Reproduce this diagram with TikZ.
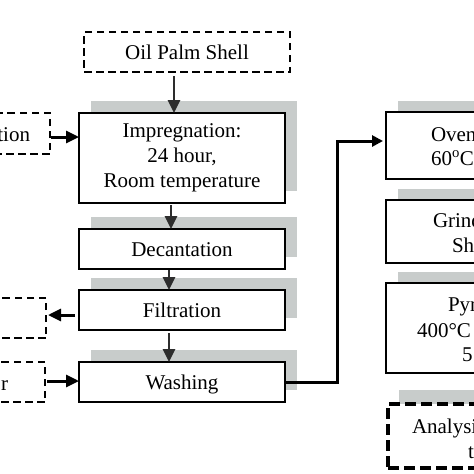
\documentclass[tikz,border=0pt]{standalone}
\usepackage{fontspec}
\setmainfont{Liberation Serif}
\usetikzlibrary{arrows.meta,backgrounds}
\definecolor{shadowgray}{RGB}{200,204,203}
\definecolor{arrgray}{RGB}{45,45,45}
\begin{document}
\begin{tikzpicture}[x=1pt,y=-1pt,
  every node/.style={font=\fontsize{21}{25}\selectfont, inner sep=0pt, outer sep=0pt},
  mainbox/.style={draw, line width=1.4pt, fill=white, minimum width=206pt, align=center},
  oneline/.style={text height=15pt, text depth=0pt},
  dashbox/.style={draw, line width=1.8pt, dash pattern=on 7.5pt off 4.5pt, fill=white},
  thickdash/.style={draw, line width=3.4pt, dash pattern=on 11pt off 5pt, fill=white},
  fragw/.style={anchor=base west},
  frage/.style={anchor=base east},
  arr/.style={line width=2.8pt, draw=arrgray, -{Triangle[length=13pt,width=12pt]}},
  sidearr/.style={line width=3pt, -{Triangle[length=13pt,width=12pt]}},
  conn/.style={line width=3pt, -{Triangle[length=11pt,width=11pt]}},
  shadowrect/.style={fill=shadowgray, draw=none},
]
\useasboundingbox (0,0) rectangle (474,474);
\clip (0,0) rectangle (474,474);

% main column
\node[dashbox, minimum width=206pt, minimum height=40pt, oneline] (oil) at (187,52) {Oil Palm Shell};
\node[mainbox, minimum height=90pt] (imp) at (182,158) {Impregnation:\\24 hour,\\Room temperature};
\node[mainbox, minimum height=40pt, oneline] (dec) at (182,249) {Decantation};
\node[mainbox, minimum height=40pt, oneline] (fil) at (182,310) {Filtration};
\node[mainbox, minimum height=40pt, oneline] (wash) at (182,382) {Washing};

% left side boxes
\node[dashbox, minimum width=140pt, minimum height=41pt] (act) at (-20,133.5) {};
\node[frage] (acttext) at (30,141) {tion};
\node[dashbox, minimum width=140pt, minimum height=40pt] (fout) at (-24,318) {};
\node[dashbox, minimum width=140pt, minimum height=40pt] (win) at (-25,382) {};
\node[frage] (wintext) at (8,390) {r};

% right column
\node[draw, line width=1.4pt, fill=white, minimum width=206pt, minimum height=67pt] (oven) at (489,145.5) {};
\node[fragw] (oventext1) at (431,141) {Oven};
\node[fragw] (oventext2) at (431,165) {60\textsuperscript{o}C};
\node[draw, line width=1.4pt, fill=white, minimum width=206pt, minimum height=63pt] (grind) at (489,231.5) {};
\node[fragw] (grindtext1) at (433,227) {Grind};
\node[fragw] (grindtext2) at (452,252) {Sh};
\node[draw, line width=1.4pt, fill=white, minimum width=206pt, minimum height=90pt] (pyro) at (489,328) {};
\node[fragw] (pyrotext1) at (448,311) {Pyr};
\node[fragw] (pyrotext2) at (417,337) {400°C};
\node[fragw] (pyrotext3) at (462,361) {5};
\node[thickdash, minimum width=206pt, minimum height=64pt] (anal) at (491,436) {};
\node[fragw] (analtext1) at (412,433) {Analysi};
\node[fragw] (analtext2) at (468,458) {t};

% shadows
\begin{scope}[on background layer]
  \foreach \n in {imp,dec,fil,wash}
    \path[shadowrect] ([shift={(12,-12)}]\n.south west) rectangle ([shift={(12,-12)}]\n.north east);
  \foreach \n in {oven,grind,pyro}
    \path[shadowrect] ([shift={(12,-11)}]\n.south west) rectangle ([shift={(12,-11)}]\n.north east);
  \path[shadowrect] ([shift={(11,-14)}]anal.north west) rectangle ([shift={(11,0)}]anal.north east);
\end{scope}

% arrows main column
\draw[arr] ([shift={(-13,4)}]oil.south) -- ([xshift=-8pt]imp.north);
\draw[arr] ([shift={(-11,2)}]imp.south) -- ([xshift=-11pt]dec.north);
\draw[arr] ([shift={(-13,1)}]dec.south) -- ([xshift=-13pt]fil.north);
\draw[arr] ([shift={(-13,3)}]fil.south) -- ([xshift=-13pt]wash.north);

% side arrows
\draw[sidearr] ([shift={(1,3.5)}]act.east) -- ([shift={(0,-21)}]imp.west);
\draw[sidearr] ([shift={(-4,5)}]fil.west) -- ([shift={(2,-3)}]fout.east);
\draw[sidearr] ([shift={(2,-1)}]win.east) -- ([shift={(0,-1)}]wash.west);

% connector washing -> oven
\coordinate (bend) at (337,382);
\coordinate (ovenin) at (383,141);
\draw[conn] (wash.east) -- (bend) |- (ovenin);
\end{tikzpicture}
\end{document}
